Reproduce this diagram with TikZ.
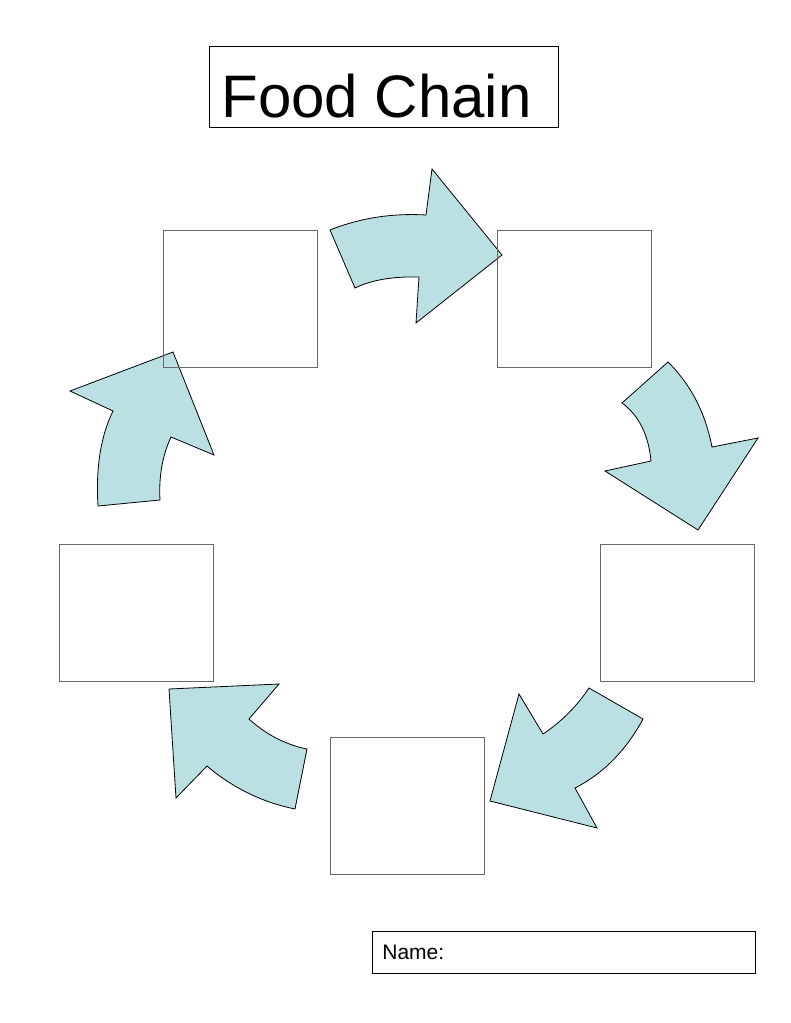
\documentclass[tikz,border=0pt]{standalone}
\usepackage{fontspec}
\setmainfont{Liberation Sans}
\usetikzlibrary{positioning}
\definecolor{arrowblue}{RGB}{187,224,227}
\definecolor{boxgray}{RGB}{105,105,105}

\begin{document}
\begin{tikzpicture}[x=1pt,y=-1pt,
  cell/.style={draw=boxgray, line width=0.8pt, minimum width=154pt, minimum height=137pt, inner sep=0pt},
  bendarrow/.style={fill=arrowblue, draw=black, line width=0.8pt, line join=miter}]
\useasboundingbox (0,0) rectangle (791,1023);

% Title
\node[draw, line width=0.8pt, minimum width=349pt, minimum height=81pt, inner sep=0pt,
  text height=61pt, text depth=0pt, font=\fontsize{60}{60}\selectfont]
  (title) at (383.5,86.5) {Food Chain\hspace*{14pt}};

% Curved arrows (clockwise)
\draw[bendarrow] (502,255) -- (416,323) -- (419,277)
  .. controls (392.7,276.3) and (371.3,280) .. (355,288) -- (330,230)
  .. controls (360,218) and (392,213) .. (426,215) -- (432,169) -- cycle;
\draw[bendarrow] (668,362) .. controls (690.7,384.3) and (705.3,412.7) .. (712,447)
  -- (758,438) -- (698,530) -- (605,471) -- (651,461)
  .. controls (648.5,434.7) and (638.8,415.3) .. (622,403) -- cycle;
\draw[bendarrow] (589,688) -- (643,719) .. controls (626,750.5) and (603.3,773.5) .. (575,788)
  -- (597,828) -- (490,801) -- (519,694) -- (543,734)
  .. controls (561.5,721.7) and (576.8,706.3) .. cycle;
\draw[bendarrow] (169,689) -- (279,684) -- (249,719)
  .. controls (266.3,734.7) and (285.7,744.7) .. (307,749) -- (295,809)
  .. controls (262.2,802.3) and (232.9,788) .. (207,766) -- (176,798) -- cycle;
\draw[bendarrow] (173,352) -- (214,455) -- (171,437)
  .. controls (162.3,455.7) and (158.7,476.7) .. (160,500) -- (98,506)
  .. controls (95.7,467.7) and (100.7,436) .. (113,411) -- (70,391) -- cycle;

% Empty boxes
\foreach \name/\x/\y in {stage1/240/299, stage2/574/299, stage3/677/612.5,
                         stage4/407/805.5, stage5/136/612.5}
  \node[cell] (\name) at (\x,\y) {};

% Name line
\node[draw, line width=0.8pt, anchor=north west, minimum width=383pt, minimum height=42pt,
  text width=363pt, inner xsep=10pt, align=left, font=\fontsize{21}{21}\selectfont]
  (name) at (372,931) {Name:};
\end{tikzpicture}
\end{document}
